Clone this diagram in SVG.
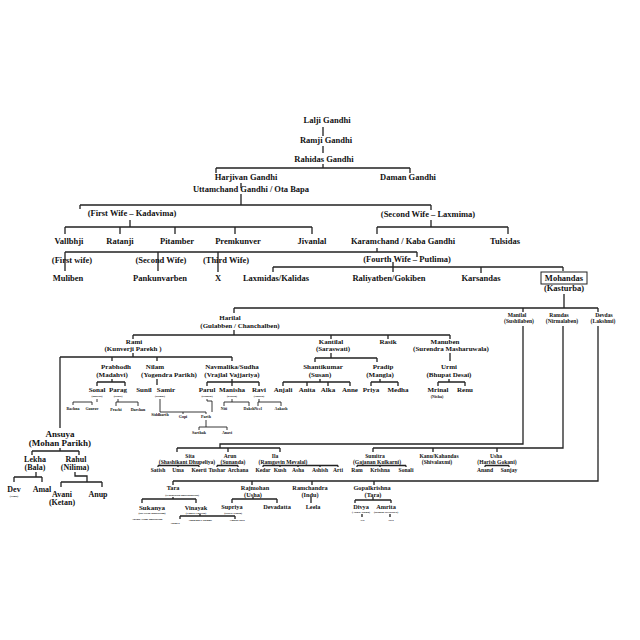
<svg xmlns="http://www.w3.org/2000/svg" width="640" height="640" viewBox="0 0 640 640">
<style>
text{font-family:"Liberation Serif","DejaVu Serif",serif;font-weight:bold;text-anchor:middle;fill:#111}
.a{font-size:8.5px}.b{font-size:7px}.c{font-size:5.6px}.d{font-size:4px}.e{font-size:2.8px}.f{font-size:9px}.h{font-size:8px}.g{font-size:6.3px}
.ln path{fill:none;stroke:#222;stroke-width:1.3}
.ln path.s{stroke-width:0.9}
</style>
<rect width="640" height="640" fill="#fff"/>
<g class="ln" id="connectors">
<path d="M323,127V136M323,146V153M323,164V168M216,168H410M216,168V173M410,168V173"/>
<path d="M241,183V188M241,194V205M80,205H431M80,205V209M431,205V210"/>
<path d="M130,220V227M65,227H312M65,227V234M120,227V234M175,227V234M235,227V234M312,227V234"/>
<path d="M431,220V227M377,227H508M377,227V234M508,227V234"/>
<path d="M377,248V252M65,252H417M65,252V271M158,252V271M218,252V272M417,252V257"/>
<path d="M393,262V272M273,267H563M273,267V272M481,267V273M563,267V271"/>
<path d="M564,294V308M234,308H598M234,308V313M523,308V312M598,308V312"/>
<path d="M234,330V335M133,335H450M133,335V339M331,335V339M388,335V339M450,335V339"/>
<path d="M523,326V444H220V448M563,326V448H373M598,326V481H173"/>
<path d="M133,353V357M60,357H232M60,357V428M112,357V361M157,357V361M232,357V361"/>
<path d="M331,353V358M315,358H377M315,358V362M377,358V362M450,353V361"/>
<path d="M112,379V382M97,382H125M97,382V386M125,382V386M157,379V385M232,379V382M207,382H259M207,382V386M232,382V386M259,382V386"/>
<path d="M320,379V382M283,382H350M283,382V386M307,382V386M328,382V386M350,382V386M380,379V382M371,382H398M371,382V386M398,382V386M449,379V382M438,382H465M438,382V386M465,382V386"/>
<path class="s" d="M97,399V402M73,402H92M73,402V405M92,402V405M118,399V402M116,402H138M116,402V406M138,402V406"/>
<path class="s" d="M160,399V412M160,412H206M183,412V414M206,412V414M207,399V401H212V412"/>
<path class="s" d="M232,399V402M224,402H249M224,402V406M249,402V406M259,399V402M258,402H281M258,402V406M281,402V406"/>
<path class="s" d="M206,420V427M199,427H227M199,427V430M227,427V430"/>
<path d="M32,451H79M60,448V451M32,451V455M79,451V455M36,472V477M14,477H42M14,477V482M42,477V482M75,472V476H87V482M61,482H102M61,482V487M102,482V487"/>
<path d="M177,448H280M177,448V452M228,448V452M280,448V452M158,465.5H199M158,465.5V467M178,465.5V467M199,465.5V467M217,465.5H238M217,465.5V467M238,465.5V467M263,465.5H338M263,465.5V467M280,465.5V467M298,465.5V467M320,465.5V467M338,465.5V467"/>
<path d="M373,448V452M433,448V452M497,448V452M357,465.5H406M357,465.5V467M380,465.5V467M406,465.5V467M485,465.5H509M485,465.5V467M509,465.5V467"/>
<path d="M173,481V485M252,481V485M312,481V485M374,481V485"/>
<path d="M173,497V499M142,499H196M142,499V503M196,499V503M200,514V516M180,516H235M180,516V519M235,516V519M253,497V499M232,499H277M232,499V503M277,499V503M311,497V503M373,497V500M355,500H391M355,500V503M391,500V503M362,514V517M390,514V517"/>
</g>
<g id="n-top">
<text class="a" x="327" y="123">Lalji Gandhi</text>
<text class="a" x="326" y="143">Ramji Gandhi</text>
<text class="a" x="324" y="162">Rahidas Gandhi</text>
<text class="a" x="246" y="180">Harjivan Gandhi</text>
<text class="a" x="408" y="180">Daman Gandhi</text>
<text class="a" x="251" y="192">Uttamchand Gandhi / Ota Bapa</text>
<text class="a" x="132" y="216">(First Wife – Kadavima)</text>
<text class="a" x="428" y="217">(Second Wife – Laxmima)</text>
</g>
<g id="n-gen2">
<text class="a" x="69" y="244">Vallbhji</text>
<text class="a" x="120" y="244">Ratanji</text>
<text class="a" x="177" y="244">Pitamber</text>
<text class="a" x="238" y="244">Premkunver</text>
<text class="a" x="312" y="244">Jivanlal</text>
<text class="a" x="403" y="244">Karamchand / Kaba Gandhi</text>
<text class="a" x="505" y="244">Tulsidas</text>
<text class="a" x="72" y="263">(First wife)</text>
<text class="a" x="161" y="263">(Second Wife)</text>
<text class="a" x="226" y="263">(Third Wife)</text>
<text class="a" x="407" y="262">(Fourth Wife – Putlima)</text>
<text class="a" x="68" y="281">Muliben</text>
<text class="a" x="160" y="281">Pankunvarben</text>
<text class="a" x="218" y="281">X</text>
<text class="a" x="276" y="281">Laxmidas/Kalidas</text>
<text class="a" x="389" y="281">Raliyatben/Gokiben</text>
<text class="a" x="481" y="281">Karsandas</text>
</g>
<g id="n-mohandas">
<rect x="541" y="272" width="46" height="12" fill="none" stroke="#222" stroke-width="1"/>
<text class="a" x="564" y="281">Mohandas</text>
<text class="a" x="564" y="291">(Kasturba)</text>
</g>
<g id="n-sons">
<text class="b" x="230" y="319.5">Harilal</text>
<text class="b" x="240" y="327.5">(Gulabben / Chanchalben)</text>
<text class="c" x="517" y="317">Manilal</text>
<text class="c" x="519" y="323">(Sushilaben)</text>
<text class="c" x="559" y="317">Ramdas</text>
<text class="c" x="562" y="323">(Nirmalaben)</text>
<text class="c" x="604" y="317">Devdas</text>
<text class="c" x="603" y="323">(Lakshmi)</text>
</g>
<g id="n-harilal-kids">
<text class="b" x="134" y="343.5">Rami</text>
<text class="b" x="133" y="350.5">(Kunverji Parekh )</text>
<text class="b" x="331" y="343.5">Kantilal</text>
<text class="b" x="333" y="350.5">(Saraswati)</text>
<text class="b" x="388" y="343.5">Rasik</text>
<text class="b" x="445" y="343.5">Manuben</text>
<text class="b" x="451" y="350.5">(Surendra Masharuwala)</text>
</g>
<g id="n-rami-kids">
<text class="b" x="116" y="368.5">Prabhodh</text>
<text class="b" x="112" y="376.5">(Madahvi)</text>
<text class="b" x="155" y="368.5">Nilam</text>
<text class="b" x="169" y="376.5">(Yogendra Parikh)</text>
<text class="b" x="232" y="368.5">Navmalika/Sudha</text>
<text class="b" x="232" y="376.5">(Vrajlal Vajjariya)</text>
<text class="b" x="323" y="368.5">Shantikumar</text>
<text class="b" x="320" y="376.5">(Susan)</text>
<text class="b" x="383" y="368.5">Pradip</text>
<text class="b" x="380" y="376.5">(Mangla)</text>
<text class="b" x="449" y="368.5">Urmi</text>
<text class="b" x="449" y="376.5">(Bhupat Desai)</text>
</g>
<g id="n-gen5">
<text class="b" x="97" y="391.5">Sonal</text>
<text class="b" x="118" y="391.5">Parag</text>
<text class="b" x="144" y="391.5">Sunil</text>
<text class="b" x="166" y="391.5">Samir</text>
<text class="b" x="207" y="391.5">Parul</text>
<text class="b" x="232" y="391.5">Manisha</text>
<text class="b" x="259" y="391.5">Ravi</text>
<text class="b" x="283" y="391.5">Anjali</text>
<text class="b" x="307" y="391.5">Anita</text>
<text class="b" x="328" y="391.5">Alka</text>
<text class="b" x="350" y="391.5">Anne</text>
<text class="b" x="371" y="391.5">Priya</text>
<text class="b" x="398" y="391.5">Medha</text>
<text class="b" x="438" y="391.5">Mrinal</text>
<text class="b" x="465" y="391.5">Renu</text>
<text class="e" x="97" y="397">(Bharati)</text>
<text class="e" x="118" y="397">(Pooja)</text>
<text class="e" x="160" y="397">(Ragini)</text>
<text class="e" x="207" y="397">(Hamish)</text>
<text class="e" x="232" y="397">(Rajesh)</text>
<text class="e" x="259" y="397">(Sheetal)</text>
<text class="d" x="437" y="398">(Nisha)</text>
</g>
<g id="n-gen6">
<text class="d" x="73" y="410">Rachna</text>
<text class="d" x="92" y="410">Gaurav</text>
<text class="d" x="116" y="411">Prachi</text>
<text class="d" x="138" y="411">Darshan</text>
<text class="d" x="160" y="416">Siddharth</text>
<text class="d" x="183" y="418">Gopi</text>
<text class="d" x="206" y="418">Parth</text>
<text class="d" x="224" y="410">Niti</text>
<text class="d" x="249" y="410">Daksh</text>
<text class="d" x="258" y="410">Neel</text>
<text class="d" x="281" y="410">Aakash</text>
<text class="d" x="199" y="434">Sarthak</text>
<text class="d" x="227" y="434">Anavi</text>
</g>
<g id="n-ansuya">
<text class="f" x="60" y="437">Ansuya</text>
<text class="f" x="60" y="446">(Mohan Parikh)</text>
<text class="h" x="35" y="462">Lekha</text>
<text class="h" x="35" y="470">(Bala)</text>
<text class="h" x="76" y="462">Rahul</text>
<text class="h" x="75" y="470">(Nilima)</text>
<text class="h" x="14" y="492">Dev</text>
<text class="e" x="14" y="497">(Nima)</text>
<text class="h" x="42" y="492">Amal</text>
<text class="h" x="62" y="497">Avani</text>
<text class="h" x="62" y="505">(Ketan)</text>
<text class="h" x="98" y="497">Anup</text>
</g>
<g id="n-manilal">
<text class="c" x="190" y="458">Sita</text>
<text class="c" x="187" y="463.5">(Shashikant Dhupeliya)</text>
<text class="c" x="230" y="458">Arun</text>
<text class="c" x="233" y="463.5">(Sunanda)</text>
<text class="c" x="275" y="458">Ila</text>
<text class="c" x="283" y="463.5">(Ramgovin  Mevalal)</text>
<text class="c" x="158" y="471.5">Satish</text>
<text class="c" x="178" y="471.5">Uma</text>
<text class="c" x="199" y="471.5">Keerti</text>
<text class="c" x="217" y="471.5">Tushar</text>
<text class="c" x="238" y="471.5">Archana</text>
<text class="c" x="263" y="471.5">Kedar</text>
<text class="c" x="280" y="471.5">Kush</text>
<text class="c" x="298" y="471.5">Asha</text>
<text class="c" x="320" y="471.5">Ashish</text>
<text class="c" x="338" y="471.5">Arti</text>
</g>
<g id="n-ramdas">
<text class="c" x="375" y="458">Sumitra</text>
<text class="c" x="377" y="463.5">(Gajanan Kulkarni)</text>
<text class="c" x="439" y="458">Kanu/Kahandas</text>
<text class="c" x="437" y="463.5">(Shivalaxmi)</text>
<text class="c" x="496" y="458">Usha</text>
<text class="c" x="497" y="463.5">(Harish Gokani)</text>
<text class="c" x="357" y="471.5">Ram</text>
<text class="c" x="380" y="471.5">Krishna</text>
<text class="c" x="406" y="471.5">Sonali</text>
<text class="c" x="485" y="471.5">Anand</text>
<text class="c" x="509" y="471.5">Sanjay</text>
</g>
<g id="n-devdas">
<text class="g" x="173" y="490">Tara</text>
<text class="e" x="182" y="495.5">(Jyotiprasad Bhattacharjee)</text>
<text class="g" x="255" y="490">Rajmohan</text>
<text class="g" x="253" y="496.5">(Usha)</text>
<text class="g" x="310" y="490">Ramchandra</text>
<text class="g" x="310" y="496.5">(Indu)</text>
<text class="g" x="372" y="490">Gopalkrishna</text>
<text class="g" x="373" y="496.5">(Tara)</text>
<text class="b" x="152" y="510">Sukanya</text>
<text class="e" x="152" y="514">(Mr.Vivek Bharatram)</text>
<text class="g" x="196" y="510">Vinayak</text>
<text class="e" x="196" y="514">(Louise Vinayak)</text>
<text class="e" x="147" y="520">Akshar Vidur Bharatram</text>
<text class="e" x="175" y="524">Ananya</text>
<text class="e" x="200" y="521">Anoushka Lakshmi</text>
<text class="e" x="237" y="521">Andrea Tara</text>
<text class="g" x="232" y="509">Supriya</text>
<text class="e" x="233" y="513.5">(Travis Zadeh)</text>
<text class="g" x="277" y="509">Devadatta</text>
<text class="g" x="313" y="509">Leela</text>
<text class="g" x="361" y="509">Divya</text>
<text class="e" x="361" y="513">(Abhay Tarun)</text>
<text class="g" x="386" y="509">Amrita</text>
<text class="e" x="386" y="513">(Manish Srivastava)</text>
<text class="e" x="362" y="521">Ava</text>
<text class="e" x="391" y="521">Siya</text>
</g>
</svg>
